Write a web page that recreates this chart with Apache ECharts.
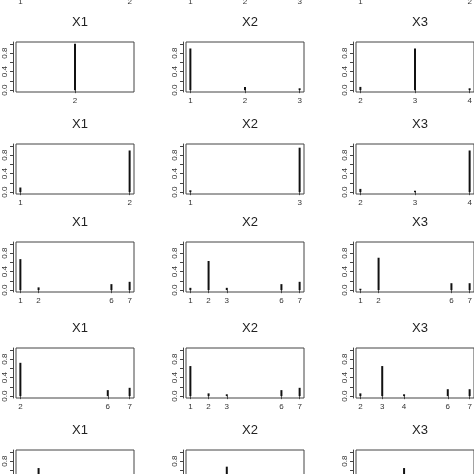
<!DOCTYPE html>
<html>
<head>
<meta charset="utf-8">
<script src="https://cdn.jsdelivr.net/npm/echarts@6/dist/echarts.min.js"></script>
<style>html,body{margin:0;padding:0;background:#fff}#c{width:474px;height:474px}</style>
</head>
<body>
<div id="c"></div>
<script>
// panel titles per column
var titles = ['X1', 'X2', 'X3'];
// x categories per panel [row][col]
var xVals = [
  [[1, 2], [1, 2, 3], [1, 2]],
  [[2], [1, 2, 3], [2, 3, 4]],
  [[1, 2], [1, 3], [2, 3, 4]],
  [[1, 2, 6, 7], [1, 2, 3, 6, 7], [1, 2, 6, 7]],
  [[2, 6, 7], [1, 2, 3, 6, 7], [2, 3, 4, 6, 7]],
  [[1, 2, 6, 7], [1, 2, 3, 6, 7], [2, 3, 4, 6, 7]]
];
// probabilities per panel
var yVals = [
  [[0.1, 0.9], [0.9, 0.06, 0.04], [0.1, 0.9]],
  [[1.0], [0.9, 0.07, 0.04], [0.07, 0.9, 0.04]],
  [[0.1, 0.9], [0.04, 0.96], [0.07, 0.03, 0.9]],
  [[0.67, 0.06, 0.13, 0.18], [0.05, 0.63, 0.05, 0.13, 0.18], [0.03, 0.7, 0.15, 0.15]],
  [[0.72, 0.13, 0.18], [0.65, 0.06, 0.04, 0.13, 0.18], [0.06, 0.65, 0.04, 0.15, 0.15]],
  [[0.05, 0.65, 0.1, 0.15], [0.05, 0.1, 0.68, 0.1, 0.1], [0.05, 0.05, 0.65, 0.1, 0.1]]
];
var yTicks = [0, 0.2, 0.4, 0.6, 0.8, 1.0];
var yLabels = [0, 0.4, 0.8];

var boxTop = [-57, 42, 144, 242, 348, 450];
var boxLeft = [16, 186, 356];
var boxW = 118, boxH = 50;

var option = { animation: false, title: [], grid: [], xAxis: [], yAxis: [], series: [] };
var k = 0;
for (var r = 0; r < xVals.length; r++) {
  for (var c = 0; c < 3; c++) {
    var xs = xVals[r][c];
    var lo = Math.min.apply(null, xs), hi = Math.max.apply(null, xs);
    var pad = hi > lo ? (hi - lo) * 0.04 : 0.4;
    if (r > 0) {
      option.title.push({
        text: titles[c], left: boxLeft[c] + boxW / 2, top: boxTop[r] - 31, textAlign: 'center',
        textStyle: { fontFamily: 'Liberation Sans', fontWeight: 'normal', fontSize: 13, color: '#222' }
      });
    }
    option.grid.push({
      left: boxLeft[c], top: boxTop[r], width: boxW, height: boxH,
      outerBoundsMode: 'none', containLabel: false,
      show: true, borderColor: '#444', borderWidth: 1, backgroundColor: '#fff'
    });
    option.xAxis.push({
      type: 'value', gridIndex: k, min: lo - pad, max: hi + pad,
      axisLine: { show: false }, splitLine: { show: false },
      axisTick: { show: true, length: 3, customValues: xs, lineStyle: { color: '#444' } },
      axisLabel: { customValues: xs, fontSize: 8, color: '#333', margin: 5, fontFamily: 'Liberation Sans' }
    });
    option.yAxis.push({
      type: 'value', gridIndex: k, min: -0.04, max: 1.04, offset: 3,
      axisLine: { show: true, lineStyle: { color: '#444' } }, splitLine: { show: false },
      axisTick: { show: true, length: 3, customValues: yTicks, lineStyle: { color: '#444' } },
      axisLabel: { customValues: yLabels, rotate: 90, fontSize: 8, color: '#333', margin: 4,
        fontFamily: 'Liberation Sans', formatter: function (v) { return v.toFixed(1); } }
    });
    option.series.push({
      type: 'bar', xAxisIndex: k, yAxisIndex: k, barWidth: 2,
      itemStyle: { color: '#111' },
      data: xs.map(function (x, i) { return [x, yVals[r][c][i]]; })
    });
    k++;
  }
}
var myChart = echarts.init(document.getElementById('c'));
myChart.setOption(option);
</script>
</body>
</html>
